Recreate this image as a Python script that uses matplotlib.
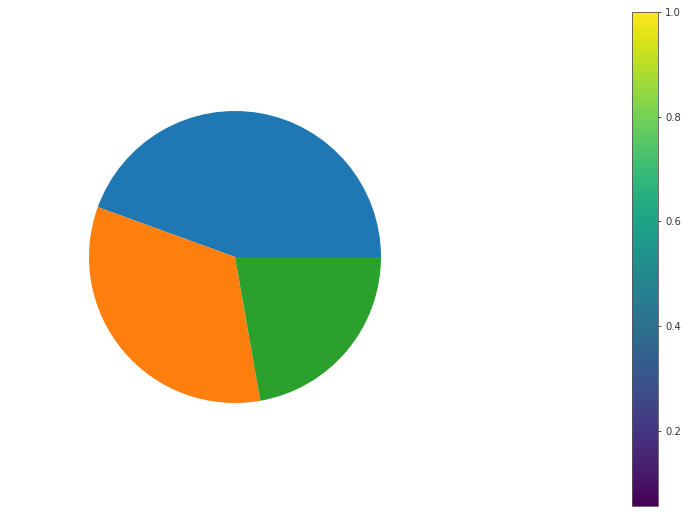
import matplotlib
matplotlib.use('Agg')
import matplotlib.pyplot as plt
import matplotlib.cm as cm
from matplotlib.colors import Normalize

values = [4, 3, 2]
colors = ['#1f77b4', '#ff7f0e', '#2ca02c']
cbar_min = 0.056
cbar_max = 1.0
cbar_ticks = [0.2, 0.4, 0.6, 0.8, 1.0]

W, H = 695, 518
fig = plt.figure(figsize=(W / 100, H / 100), dpi=100)

# pie axes placed in pixels: centre (235, 257) from top, radius 146
ax = fig.add_axes([(235 - 146) / W, (H - 257 - 146) / H, 292 / W, 292 / H])
ax.pie(values, colors=colors)
ax.set_xlim(-1, 1)
ax.set_ylim(-1, 1)
ax.set_aspect('auto')
ax.axis('off')

cax = fig.add_axes([632 / W, 12 / H, 26 / W, 494 / H])
sm = cm.ScalarMappable(norm=Normalize(vmin=cbar_min, vmax=cbar_max), cmap='viridis')
sm.set_array([])
cb = fig.colorbar(sm, cax=cax, ticks=cbar_ticks)
cb.outline.set_edgecolor('#555555')
cb.outline.set_linewidth(0.6)
cax.tick_params(labelsize=7.2, length=2.5, width=0.6, pad=2.5, colors='#333333')

fig.savefig('out.png', dpi=100)
